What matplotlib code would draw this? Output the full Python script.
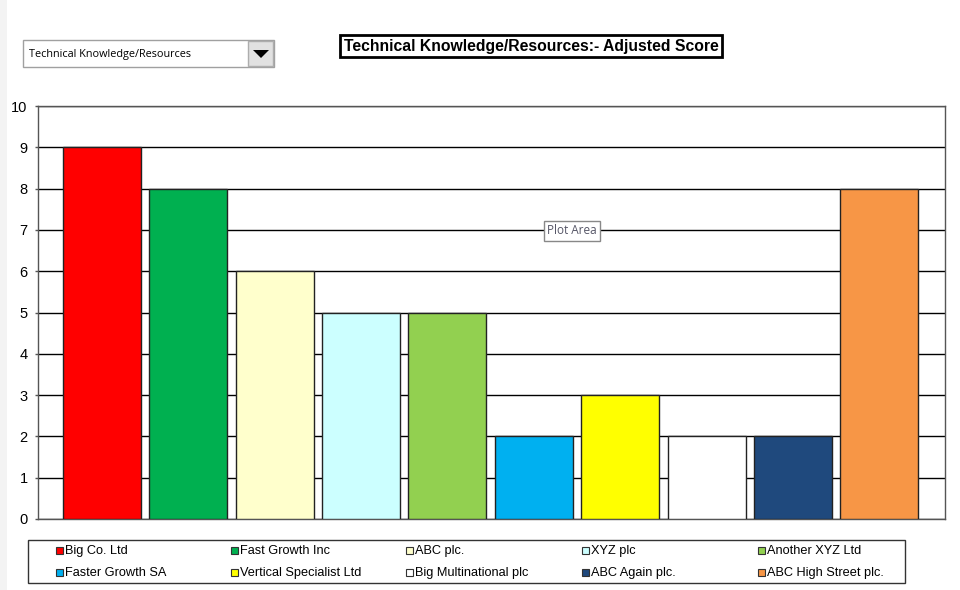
import matplotlib.pyplot as plt
from matplotlib.patches import Rectangle, Polygon
import numpy as np

companies = ["Big Co. Ltd", "Fast Growth Inc", "ABC plc.", "XYZ plc", "Another XYZ Ltd",
             "Faster Growth SA", "Vertical Specialist Ltd", "Big Multinational plc",
             "ABC Again plc.", "ABC High Street plc."]
scores = [9, 8, 6, 5, 5, 2, 3, 2, 2, 8]
colors = ["#FF0000", "#00B050", "#FFFFCC", "#CCFFFF", "#92D050",
          "#00B0F0", "#FFFF00", "#FFFFFF", "#1F497D", "#F79646"]
category = "Technical Knowledge/Resources"
title = category + ":- Adjusted Score"

plt.rcParams['font.family'] = ['Liberation Sans', 'DejaVu Sans']

W, H = 960, 590
fig = plt.figure(figsize=(W / 100, H / 100), dpi=100)
fig.patch.set_facecolor("white")

def px(x, y):
    # pixel coords (top-left origin) -> figure fraction
    return x / W, 1 - y / H

# light grey strip at left edge (window border in the screenshot)
fig.patches.append(Rectangle((0, 0), 7 / W, 1, transform=fig.transFigure,
                             facecolor="#F3F3F3", edgecolor="none"))

ax = fig.add_axes([38 / W, (H - 519) / H, 907 / W, 413 / H])
x = np.arange(len(companies))
ax.bar(x, scores, width=0.903, color=colors, edgecolor="#222222", linewidth=1, zorder=3)
ax.set_xlim(-0.74, 9.76)
ax.set_ylim(0, 10)
ax.set_yticks(range(0, 11))
ax.set_xticks([])
ax.yaxis.grid(True, color="black", linewidth=1, zorder=0)
ax.tick_params(axis="y", length=2.5, width=1, color="#555555", labelsize=10.5, pad=5)
for s in ax.spines.values():
    s.set_color("#555555")
    s.set_linewidth(1)

# "Plot Area" tooltip
fig.text(*px(572, 231), "Plot Area", ha="center", va="center", fontsize=8.5,
         family=["Open Sans", "DejaVu Sans"], color="#555566",
         bbox=dict(boxstyle="square,pad=0.3", facecolor="white", edgecolor="#888888", linewidth=1))

# title box
fig.text(*px(531, 46), title, ha="center", va="center", fontsize=11.3, fontweight="bold",
         bbox=dict(boxstyle="square,pad=0.25", facecolor="white", edgecolor="black", linewidth=2))

# dropdown box
x0, y0 = px(23, 67)
fig.patches.append(Rectangle((x0, y0), 251 / W, 27 / H, transform=fig.transFigure,
                             facecolor="white", edgecolor="#A0A0A0", linewidth=1))
bx, by = px(248, 66)
fig.patches.append(Rectangle((bx, by), 25 / W, 25 / H, transform=fig.transFigure,
                             facecolor="#E1E1E1", edgecolor="#ADADAD", linewidth=1))
tri = [px(253, 50), px(269, 50), px(261, 58)]
fig.patches.append(Polygon(tri, closed=True, transform=fig.transFigure,
                           facecolor="black", edgecolor="none"))
fig.text(*px(29, 54), category, ha="left", va="center", fontsize=7.8,
         family=["Open Sans", "DejaVu Sans"], color="black")

# legend box
lx, ly = px(28, 583)
fig.patches.append(Rectangle((lx, ly), 877 / W, 43 / H, transform=fig.transFigure,
                             facecolor="white", edgecolor="#333333", linewidth=1))
col_x = [59, 234, 409, 585, 761]
row_y = [551, 573]
for i, (name, c) in enumerate(zip(companies, colors)):
    mx = col_x[i % 5]
    my = row_y[i // 5]
    sx, sy = px(mx - 3, my + 3)
    fig.patches.append(Rectangle((sx, sy), 7 / W, 7 / H, transform=fig.transFigure,
                                 facecolor=c, edgecolor="#333333", linewidth=0.8))
    fig.text(*px(mx + 6, my), name, ha="left", va="center", fontsize=9.2)

fig.savefig("out.png", dpi=100)
